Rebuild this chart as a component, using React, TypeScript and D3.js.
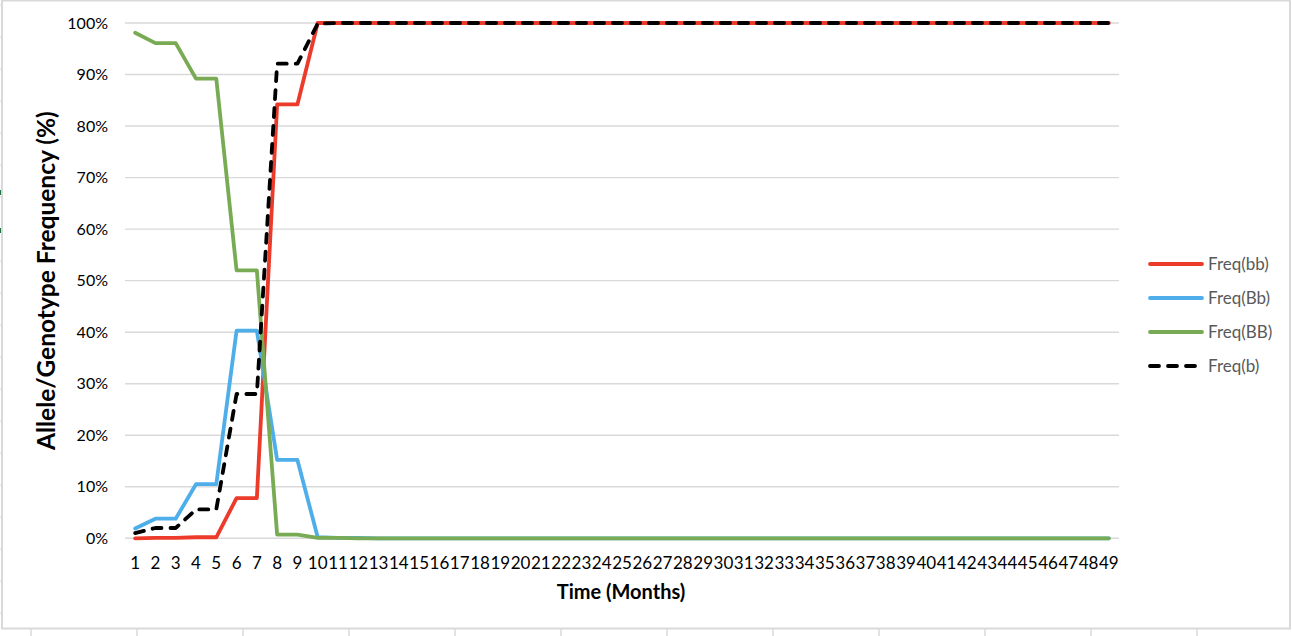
import * as d3 from "d3";

const months = d3.range(1, 50);

const freqbb = [
  0, 0.1, 0.1, 0.2, 0.2, 7.8, 7.8, 84.2, 84.2, 100,
  100, 100, 100, 100, 100, 100, 100, 100, 100, 100,
  100, 100, 100, 100, 100, 100, 100, 100, 100, 100,
  100, 100, 100, 100, 100, 100, 100, 100, 100, 100,
  100, 100, 100, 100, 100, 100, 100, 100, 100,
];
const freqBb = [
  1.9, 3.8, 3.8, 10.5, 10.5, 40.3, 40.3, 15.2, 15.2, 0.2,
  0.1, 0.1, 0, 0, 0, 0, 0, 0, 0, 0,
  0, 0, 0, 0, 0, 0, 0, 0, 0, 0,
  0, 0, 0, 0, 0, 0, 0, 0, 0, 0,
  0, 0, 0, 0, 0, 0, 0, 0, 0,
];
const freqBBB = [
  98.1, 96.1, 96.1, 89.2, 89.2, 52, 52, 0.7, 0.7, 0.1,
  0.1, 0, 0, 0, 0, 0, 0, 0, 0, 0,
  0, 0, 0, 0, 0, 0, 0, 0, 0, 0,
  0, 0, 0, 0, 0, 0, 0, 0, 0, 0,
  0, 0, 0, 0, 0, 0, 0, 0, 0,
];
const freqb = [
  1, 2, 2, 5.6, 5.6, 28, 28, 92.1, 92.1, 99.9,
  100, 100, 100, 100, 100, 100, 100, 100, 100, 100,
  100, 100, 100, 100, 100, 100, 100, 100, 100, 100,
  100, 100, 100, 100, 100, 100, 100, 100, 100, 100,
  100, 100, 100, 100, 100, 100, 100, 100, 100,
];

const seriesNames = ["Freq(bb)", "Freq(Bb)", "Freq(BB)", "Freq(b)"];
const seriesValues = [freqbb, freqBb, freqBBB, freqb];
const seriesColors = ["#ec3a2b", "#4eaeea", "#78ab53", "#000000"];
const yTicks = [0, 10, 20, 30, 40, 50, 60, 70, 80, 90, 100];

const font = "Lato, 'Open Sans', sans-serif";

export default function App() {
  const width = 1292;
  const height = 636;
  const plot = { left: 125, right: 1119, top: 23, bottom: 538.3 };

  const x = d3.scalePoint<number>().domain(months).range([plot.left, plot.right]).padding(0.5);
  const y = d3.scaleLinear().domain([0, 100]).range([plot.bottom, plot.top]);

  const line = d3
    .line<number>()
    .x((_, i) => x(months[i]) as number)
    .y((d) => y(d));

  const grid = "#d9d9d9";

  return (
    <svg width={width} height={height} style={{ position: "fixed", left: 0, top: 0, background: "#fff" }}>
      {/* spreadsheet cells around the chart */}
      {d3.range(31, width, 106).map((cx) => (
        <line key={"c" + cx} x1={cx} x2={cx} y1={629} y2={height} stroke={grid} strokeWidth={1.5} />
      ))}
      {d3.range(5, height, 32).map((ry) => (
        <line key={"r" + ry} x1={0} x2={2} y1={ry} y2={ry} stroke={grid} strokeWidth={1} />
      ))}
      <rect x={0} y={190} width={1.5} height={5} fill="#217346" />
      <rect x={0} y={228} width={1.5} height={5} fill="#217346" />
      <rect x={2} y={0.5} width={1288} height={628} fill="#fff" stroke={grid} strokeWidth={2} />

      {/* gridlines */}
      <g>
        {yTicks.map((t) => (
          <line key={t} x1={plot.left} x2={plot.right} y1={y(t)} y2={y(t)} stroke={grid} strokeWidth={1.4} />
        ))}
      </g>

      {/* y tick labels */}
      <g fontFamily={font} fontSize={16} fill="#000" textAnchor="end">
        {yTicks.map((t) => (
          <text key={t} x={108} y={y(t)} dy="0.35em">
            {t}%
          </text>
        ))}
      </g>

      {/* x tick labels */}
      <g fontFamily={font} fontSize={17} fill="#000" textAnchor="middle">
        {months.map((m) => (
          <text key={m} x={x(m)} y={563} dy="0.35em">
            {m}
          </text>
        ))}
      </g>

      {/* series */}
      <g fill="none" strokeLinejoin="round" strokeLinecap="round">
        {seriesValues.map((vals, i) => (
          <path
            key={seriesNames[i]}
            d={line(vals) ?? ""}
            stroke={seriesColors[i]}
            strokeWidth={3.8}
            strokeDasharray={i === 3 ? "9 9" : undefined}
          />
        ))}
      </g>

      {/* axis titles */}
      <text
        transform={`translate(46,${(plot.top + plot.bottom) / 2}) rotate(-90)`}
        textAnchor="middle"
        dy="0.35em"
        fontFamily={font}
        fontWeight="bold"
        fontSize={24.5}
        fill="#000"
      >
        Allele/Genotype Frequency (%)
      </text>
      <text x={621} y={592} textAnchor="middle" dy="0.35em" fontFamily={font} fontWeight="bold" fontSize={20} fill="#000">
        Time (Months)
      </text>

      {/* legend */}
      <g fontFamily={font} fontSize={17} fill="#595959">
        {seriesNames.map((name, i) => {
          const ly = 264 + i * 34;
          return (
            <g key={name}>
              <line
                x1={1150}
                x2={1202}
                y1={ly}
                y2={ly}
                stroke={seriesColors[i]}
                strokeWidth={3.8}
                strokeLinecap="round"
                strokeDasharray={i === 3 ? "9 9" : undefined}
              />
              <text x={1208} y={ly} dy="0.35em">
                {name}
              </text>
            </g>
          );
        })}
      </g>
    </svg>
  );
}
